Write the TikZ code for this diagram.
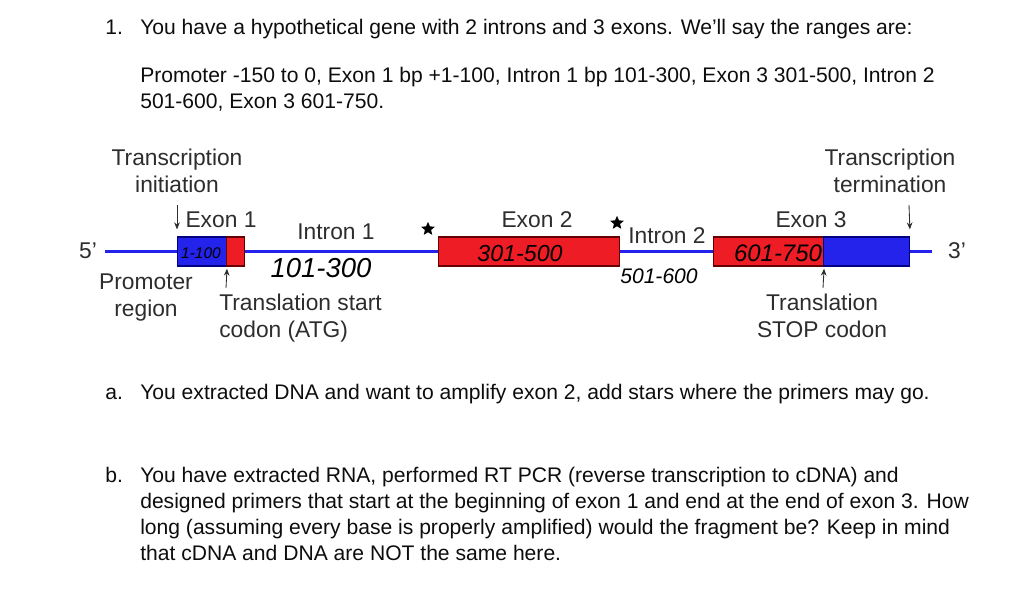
\documentclass[tikz,border=0pt]{standalone}
\usepackage{fontspec}
\setmainfont{Liberation Sans}
\usetikzlibrary{arrows.meta,shapes.geometric}
\definecolor{dnablue}{RGB}{35,35,235}
\definecolor{exonred}{RGB}{238,28,36}
\definecolor{txtgray}{RGB}{45,45,45}
\tikzset{
  body/.style={anchor=base west, inner sep=0pt, font=\fontsize{15}{18.5}\selectfont, text=black!95},
  lbl/.style={anchor=base, inner sep=0pt, font=\fontsize{16.2}{19}\selectfont, text=txtgray},
  seg/.style={draw, line width=0.8pt, inner sep=0pt, minimum height=0.725cm, anchor=west},
  hand/.style={anchor=base, inner sep=0pt, font=\fontsize{16.5}{16}\selectfont\itshape},
  ptr/.style={-{Stealth[length=5pt,width=4pt]}, line width=0.6pt, txtgray},
  primer/.style={star, star points=5, star point ratio=2.2, fill=black, inner sep=0pt, minimum size=0.36cm}
}
\begin{document}
\begin{tikzpicture}[x=0.025cm, y=-0.025cm]
  \useasboundingbox (0,0) rectangle (1024,600);
  % question 1
  \node[body] (n1) at (105,34) {1.};
  \node[body] (q1) at (140,34) {You have a hypothetical gene with 2 introns and 3 exons. We'll say the ranges are:};
  \foreach \t [count=\i] in {{Promoter -150 to 0, Exon 1 bp +1-100, Intron 1 bp 101-300, Exon 3 301-500, Intron 2},
                             {501-600, Exon 3 601-750.}}
    \node[body] (r\i) at (140,56+26*\i) {\t};
  % gene line
  \coordinate (lstart) at (105,251.5);
  \coordinate (lend) at (932,251.5);
  \draw[dnablue, line width=2.2pt] (lstart) -- (lend);
  \node[lbl, anchor=center] (five) at (88,251) {5'};
  \node[lbl, anchor=center] (three) at (957,251) {3'};
  % exons
  \node[seg, fill=dnablue, draw=blue!50!black, minimum width=1.225cm] (e1b) at (177,251.5) {};
  \node[seg, fill=exonred, draw=red!40!black, minimum width=0.45cm] (e1r) at (226,251.5) {};
  \node[seg, fill=exonred, draw=red!40!black, minimum width=4.525cm] (e2) at (438,251.5) {};
  \node[seg, fill=exonred, draw=red!40!black, minimum width=2.75cm] (e3r) at (713,251.5) {};
  \node[seg, fill=dnablue, draw=blue!50!black, minimum width=2.15cm] (e3b) at (823,251.5) {};
  % labels
  \node[lbl] (ti1) at (177,165) {Transcription};
  \node[lbl] (ti2) at (177,192) {initiation};
  \node[lbl] (tt1) at (890,165) {Transcription};
  \node[lbl] (tt2) at (890,192) {termination};
  \node[lbl] (x1) at (221,227) {Exon 1};
  \node[lbl] (i1) at (336,239) {Intron 1};
  \node[lbl] (x2) at (537,227) {Exon 2};
  \node[lbl] (i2) at (667,243) {Intron 2};
  \node[lbl] (x3) at (811,227) {Exon 3};
  \node[lbl] (pr1) at (146,289) {Promoter};
  \node[lbl] (pr2) at (146,316) {region};
  \node[lbl, anchor=base west] (ts1) at (219,310) {Translation start};
  \node[lbl, anchor=base west] (ts2) at (219,337) {codon (ATG)};
  \node[lbl] (sp1) at (822,310) {Translation};
  \node[lbl] (sp2) at (822,337) {STOP codon};
  % pointers
  \coordinate (tiA) at (177,205);
  \coordinate (ttA) at (909,205);
  \coordinate (tsA) at (226,288);
  \coordinate (spA) at (823,288);
  \draw[ptr, shorten >=5pt] (tiA) -- (e1b.north west);
  \draw[ptr, shorten >=5pt] (ttA) -- (e3b.north east);
  \draw[ptr, shorten >=1.5pt] (tsA) -- (e1b.south east);
  \draw[ptr, shorten >=1.5pt] (spA) -- (e3r.south east);
  % handwritten notes
  \node[hand, font=\fontsize{11}{11}\selectfont\itshape] (h1) at (201,258) {1-100};
  \node[hand, font=\fontsize{19.5}{19}\selectfont\itshape] (h2) at (321,277) {101-300};
  \node[hand] (h3) at (520,261) {301-500};
  \node[hand, font=\fontsize{15}{15}\selectfont\itshape] (h4) at (659,283) {501-600};
  \node[hand, font=\fontsize{17}{17}\selectfont\itshape] (h5) at (778,261) {601-750};
  \node[primer] (s1) at (428,229) {};
  \node[primer] (s2) at (617,223) {};
  % questions a and b
  \node[body] (na) at (105,399) {a.};
  \node[body] (qa) at (140,399) {You extracted DNA and want to amplify exon 2, add stars where the primers may go.};
  \node[body] (nb) at (105,482) {b.};
  \foreach \t [count=\i] in {{You have extracted RNA, performed RT PCR (reverse transcription to cDNA) and},
                             {designed primers that start at the beginning of exon 1 and end at the end of exon 3. How},
                             {long (assuming every base is properly amplified) would the fragment be? Keep in mind},
                             {that cDNA and DNA are NOT the same here.}}
    \node[body] (b\i) at (140,456+26*\i) {\t};
\end{tikzpicture}
\end{document}
